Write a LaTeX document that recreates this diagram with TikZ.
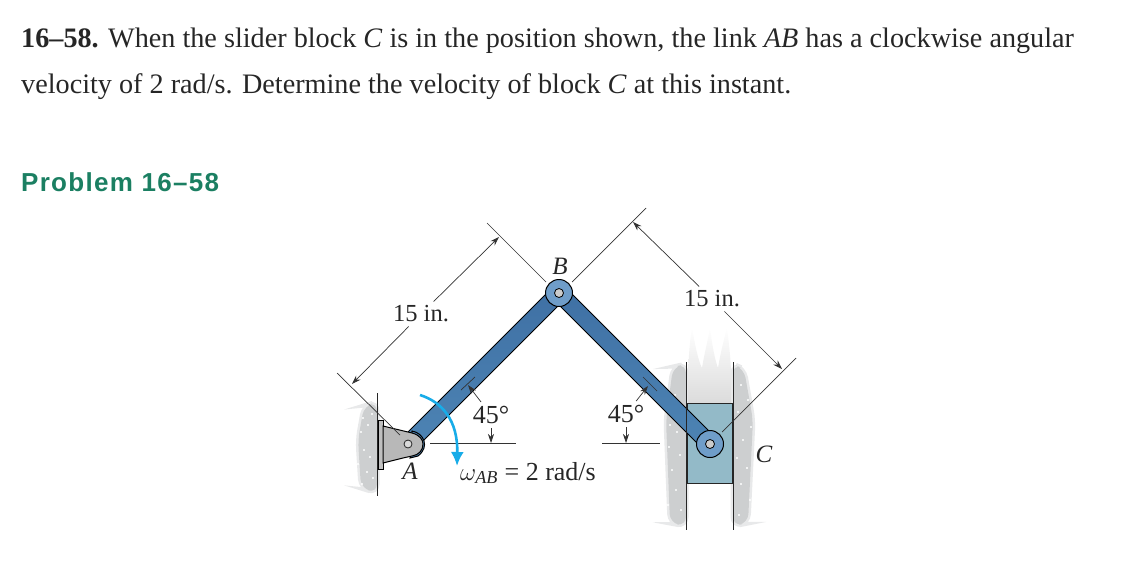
\documentclass[tikz,border=0pt]{standalone}
\usepackage{fontspec}
\setmainfont{Liberation Serif}
\newfontfamily\headfont[LetterSpace=5]{Liberation Sans}
\usetikzlibrary{arrows.meta,positioning,calc}
\definecolor{headgreen}{HTML}{1B7F62}
\definecolor{omegablue}{HTML}{18ACE8}
\definecolor{rockgray}{HTML}{CDCFD0}
\definecolor{rodedge}{HTML}{3F70A4}
\definecolor{rodlight}{HTML}{9CC5E6}
\definecolor{roddark}{HTML}{4D84B4}
\definecolor{pinblue}{HTML}{6F9DC9}
\definecolor{blockmid}{HTML}{CCE0E6}
\definecolor{blockdark}{HTML}{93BAC8}

\begin{document}
\begin{tikzpicture} [
		x=1pt, y=-1pt,
		every node/.style = {inner sep=0pt, text=black!85},
		para/.style   = { anchor=base west, font=\fontsize{28.2}{28.2}\selectfont },
		head/.style   = { anchor=base west, text=headgreen, font=\headfont\bfseries\fontsize{26}{26}\selectfont },
		dimtext/.style = { inner sep=4pt, font=\fontsize{24.5}{24.5}\selectfont },
		angtext/.style = { inner sep=4pt, font=\fontsize{26}{26}\selectfont },
		ptlabel/.style = { font=\fontsize{25}{25}\selectfont\itshape },
		rod/.style    = { rectangle, draw=black, line width=1pt, minimum height=17pt,
			top color=rodedge, middle color=rodlight, bottom color=roddark },
		pin/.style    = { circle, draw=black, line width=1pt, fill=pinblue, minimum size=27pt },
		hole/.style   = { circle, draw=black, line width=.8pt, fill=black!20, minimum size=9pt },
		extline/.style = { draw, black!80, line width=.7pt },
		dimline/.style = { draw, black!80, line width=.7pt, -{Stealth[length=9pt,width=6pt]} },
		rock/.style   = { fill=rockgray, draw=rockgray, draw opacity=.45, line width=5pt, rounded corners=9pt },
		wall/.style   = { draw=black!85, line width=1pt },
	]
	\useasboundingbox (0,0) rectangle (1146,560);
	% problem text
	\node [para] (line1) at (21,47) {\textbf{16–58.} When the slider block \textit{C} is in the position shown, the link \textit{AB} has a clockwise angular};
	\node [para] (line2) at (21,93) {velocity of 2 rad/s. Determine the velocity of block \textit{C} at this instant.};
	\node [head] (title) at (21,191) {Problem 16–58};
	% rock behind the walls
	\path [rock] (377,402) -- (364,406) -- (358,440) -- (361,488) -- (377,493) -- cycle;
	\path [rock] (686,364) -- (673,367) -- (666,420) -- (670,523) -- (686,526) -- cycle;
	\path [rock] (733,364) -- (744,369) -- (753,420) -- (748,523) -- (733,526) -- cycle;
	\foreach \dotx/\doty in {363/418, 368/425, 361/432, 372/414, 364/450, 370/457, 358/464, 367/472, 373/478, 362/484,
		670/425, 677/432, 669/447, 680/455, 672/470, 683/418, 676/490, 668/505, 681/510, 675/395,
		741/385, 748/400, 738/412, 751/427, 743/440, 737/458, 747/468, 741/484, 750/500, 739/515}
		\fill [white] (\dotx,\doty) circle (1.1pt);
	% fading track above the block
	\shade [top color=white, bottom color=black!14] (688,403) -- (688,375)
		.. controls (689,350) and (690,340) .. (692,327) .. controls (695,345) and (698,360) .. (702,368)
		.. controls (705,350) and (708,340) .. (710,327) .. controls (712,345) and (715,360) .. (718,368)
		.. controls (721,350) and (724,340) .. (727,327) .. controls (729,345) and (731,360) .. (731,375) -- (731,403) -- cycle;
	% Define nodes
	\begin{scope}
		\coordinate (pA) at (408,444);
		\coordinate (pB) at (559,293);
		\coordinate (pC) at (710,444);
		\node [draw=black!85, line width=1pt, minimum width=45pt, minimum height=80pt, shading angle=20,
			top color=blockdark, middle color=blockmid, bottom color=blockdark] (block) at (709.5,443) {};
		\node [rod, minimum width=213pt, rotate=45] (rodAB) at ($(pA)!.5!(pB)$) {};
		\node [rod, minimum width=213pt, rotate=-45] (rodBC) at ($(pB)!.5!(pC)$) {};
		\node [pin] (pinB) at (pB) {};
		\node [pin] (pinC) at (pC) {};
		\node [hole] (holeB) at (pB) {};
		\node [hole] (holeC) at (pC) {};
		\node [ptlabel] (lblA) at (410,471) {A};
		\node [ptlabel] (lblB) at (560,266) {B};
		\node [ptlabel] (lblC) at (764,454) {C};
		\node [dimtext] (lenAB) at (421,314) {15 in.};
		\node [dimtext] (lenBC) at (712,299) {15 in.};
		\node [angtext] (angA) at (491,415) {45°};
		\node [angtext] (angC) at (626,414) {45°};
		\node [font=\fontsize{26}{26}\selectfont] (omega) at (528,473) {$\omega_{\mathit{AB}}$ = 2 rad/s};
		% ends of the dimension lines
		\coordinate (extA1) at (337,373);
		\coordinate (extA2) at (400,435);
		\coordinate (extB1) at (487,223);
		\coordinate (extB2) at (546,282);
		\coordinate (extB3) at (572,282);
		\coordinate (extB4) at (646,208);
		\coordinate (extC1) at (722,432);
		\coordinate (extC2) at (796,358);
		\coordinate (tipA) at (352,384);
		\coordinate (tipB1) at (499,237);
		\coordinate (tipB2) at (633,222);
		\coordinate (tipC) at (782,369);
		\coordinate (tickA1) at (461,390);
		\coordinate (tickA2) at (475,377);
		\coordinate (tickC1) at (643,377);
		\coordinate (tickC2) at (657,391);
		\coordinate (tipAngA) at (468,385);
		\coordinate (tipAngC) at (648,386);
		\coordinate (horA1) at (430,443);
		\coordinate (horA2) at (516,443);
		\coordinate (horC1) at (602,443);
		\coordinate (horC2) at (660,443);
		\coordinate (tipHorA) at (491,443);
		\coordinate (tipHorC) at (626,443);
	\end{scope}
	% support at A
	\draw [line width=1pt, fill=black!25] (378,420) rectangle (383,469);
	\draw [line width=1pt, fill=roddark] (412,431) .. controls (424,433) and (430,447) .. (418,456) -- (410,458) -- cycle;
	\draw [line width=1pt, fill=black!28] (383,426) -- (412,433) .. controls (420,435) and (423,440) .. (423,444)
		.. controls (423,450) and (419,455) .. (412,456) -- (403,458) -- (383,463) -- cycle;
	\node [circle, draw=black!85, line width=.8pt, fill=black!15, minimum size=8pt] (pinA) at (pA) {};
	% walls
	\draw [wall] (377,393) -- (377,496);
	\draw [wall] (686,362) -- (686,530);
	\draw [wall] (733,362) -- (733,530);
	% connect all nodes defined above
	\begin{scope} [every path/.style=extline]
		\path (extA1) -- (extA2);
		\path (extB1) -- (extB2);
		\path (extB3) -- (extB4);
		\path (extC1) -- (extC2);
		\path (tickA1) -- (tickA2);
		\path (tickC1) -- (tickC2);
		\path (horA1) -- (horA2);
		\path (horC1) -- (horC2);
	\end{scope}
	\begin{scope} [every path/.style=dimline]
		\path (lenAB) -- (tipA);
		\path (lenAB) -- (tipB1);
		\path (lenBC) -- (tipB2);
		\path (lenBC) -- (tipC);
		\path (angA) -- (tipAngA);
		\path (angA) -- (tipHorA);
		\path (angC) -- (tipAngC);
		\path (angC) -- (tipHorC);
	\end{scope}
	% angular velocity
	\coordinate (omegaS) at (420,395);
	\coordinate (omegaE) at (457,466);
	\draw [omegablue, line width=2.6pt, -{Latex[length=14pt,width=13pt]}] (omegaS) .. controls (442,402) and (458,420) .. (omegaE);
\end{tikzpicture}
\end{document}
